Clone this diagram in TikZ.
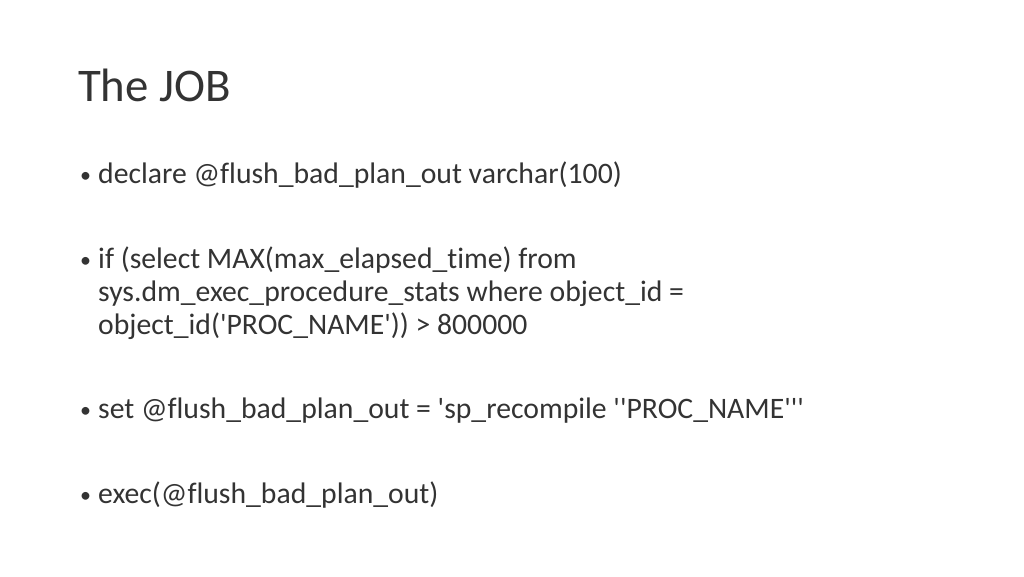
\documentclass[tikz,border=0pt]{standalone}
\usepackage{fontspec}
\setmainfont{Carlito}[Ligatures={NoCommon}]
\usetikzlibrary{positioning}
\newcommand{\sq}{\textquotesingle}
\tikzset{
  line/.style={anchor=base west, inner sep=0pt, text=black!80, font=\fontsize{29.7}{34}\selectfont},
  dot/.style={anchor=base west, inner sep=0pt, text=black!80, font=\fontsize{22}{34}\selectfont}
}
\begin{document}
\begin{tikzpicture}[x=1pt,y=1pt]
\useasboundingbox (0,0) rectangle (1024,-576);
\node[anchor=base west, inner sep=0pt, text=black!80, font=\fontsize{46.8}{50}\selectfont] (title) at (78,-101) {The JOB};
% bullets
\node[dot] (b1) at (80,-182) {\textbullet};
\node[line] (declare) at (98,-183) {declare @flush\_bad\_plan\_out varchar(100)};
\node[dot] (b2) at (80,-267) {\textbullet};
\node[line] (if1) at (98,-268) {if (select MAX(max\_elapsed\_time) from};
\node[line] (if2) at (98,-301) {sys.dm\_exec\_procedure\_stats where object\_id =};
\node[line] (if3) at (98,-334) {object\_id(\sq PROC\_NAME\sq)) > 800000};
\node[dot] (b3) at (80,-417) {\textbullet};
\node[line] (set) at (98,-418) {set @flush\_bad\_plan\_out = \sq sp\_recompile \sq\sq PROC\_NAME\sq\sq\sq};
\node[dot] (b4) at (80,-502) {\textbullet};
\node[line] (exec) at (98,-503) {exec(@flush\_bad\_plan\_out)};
\end{tikzpicture}
\end{document}
